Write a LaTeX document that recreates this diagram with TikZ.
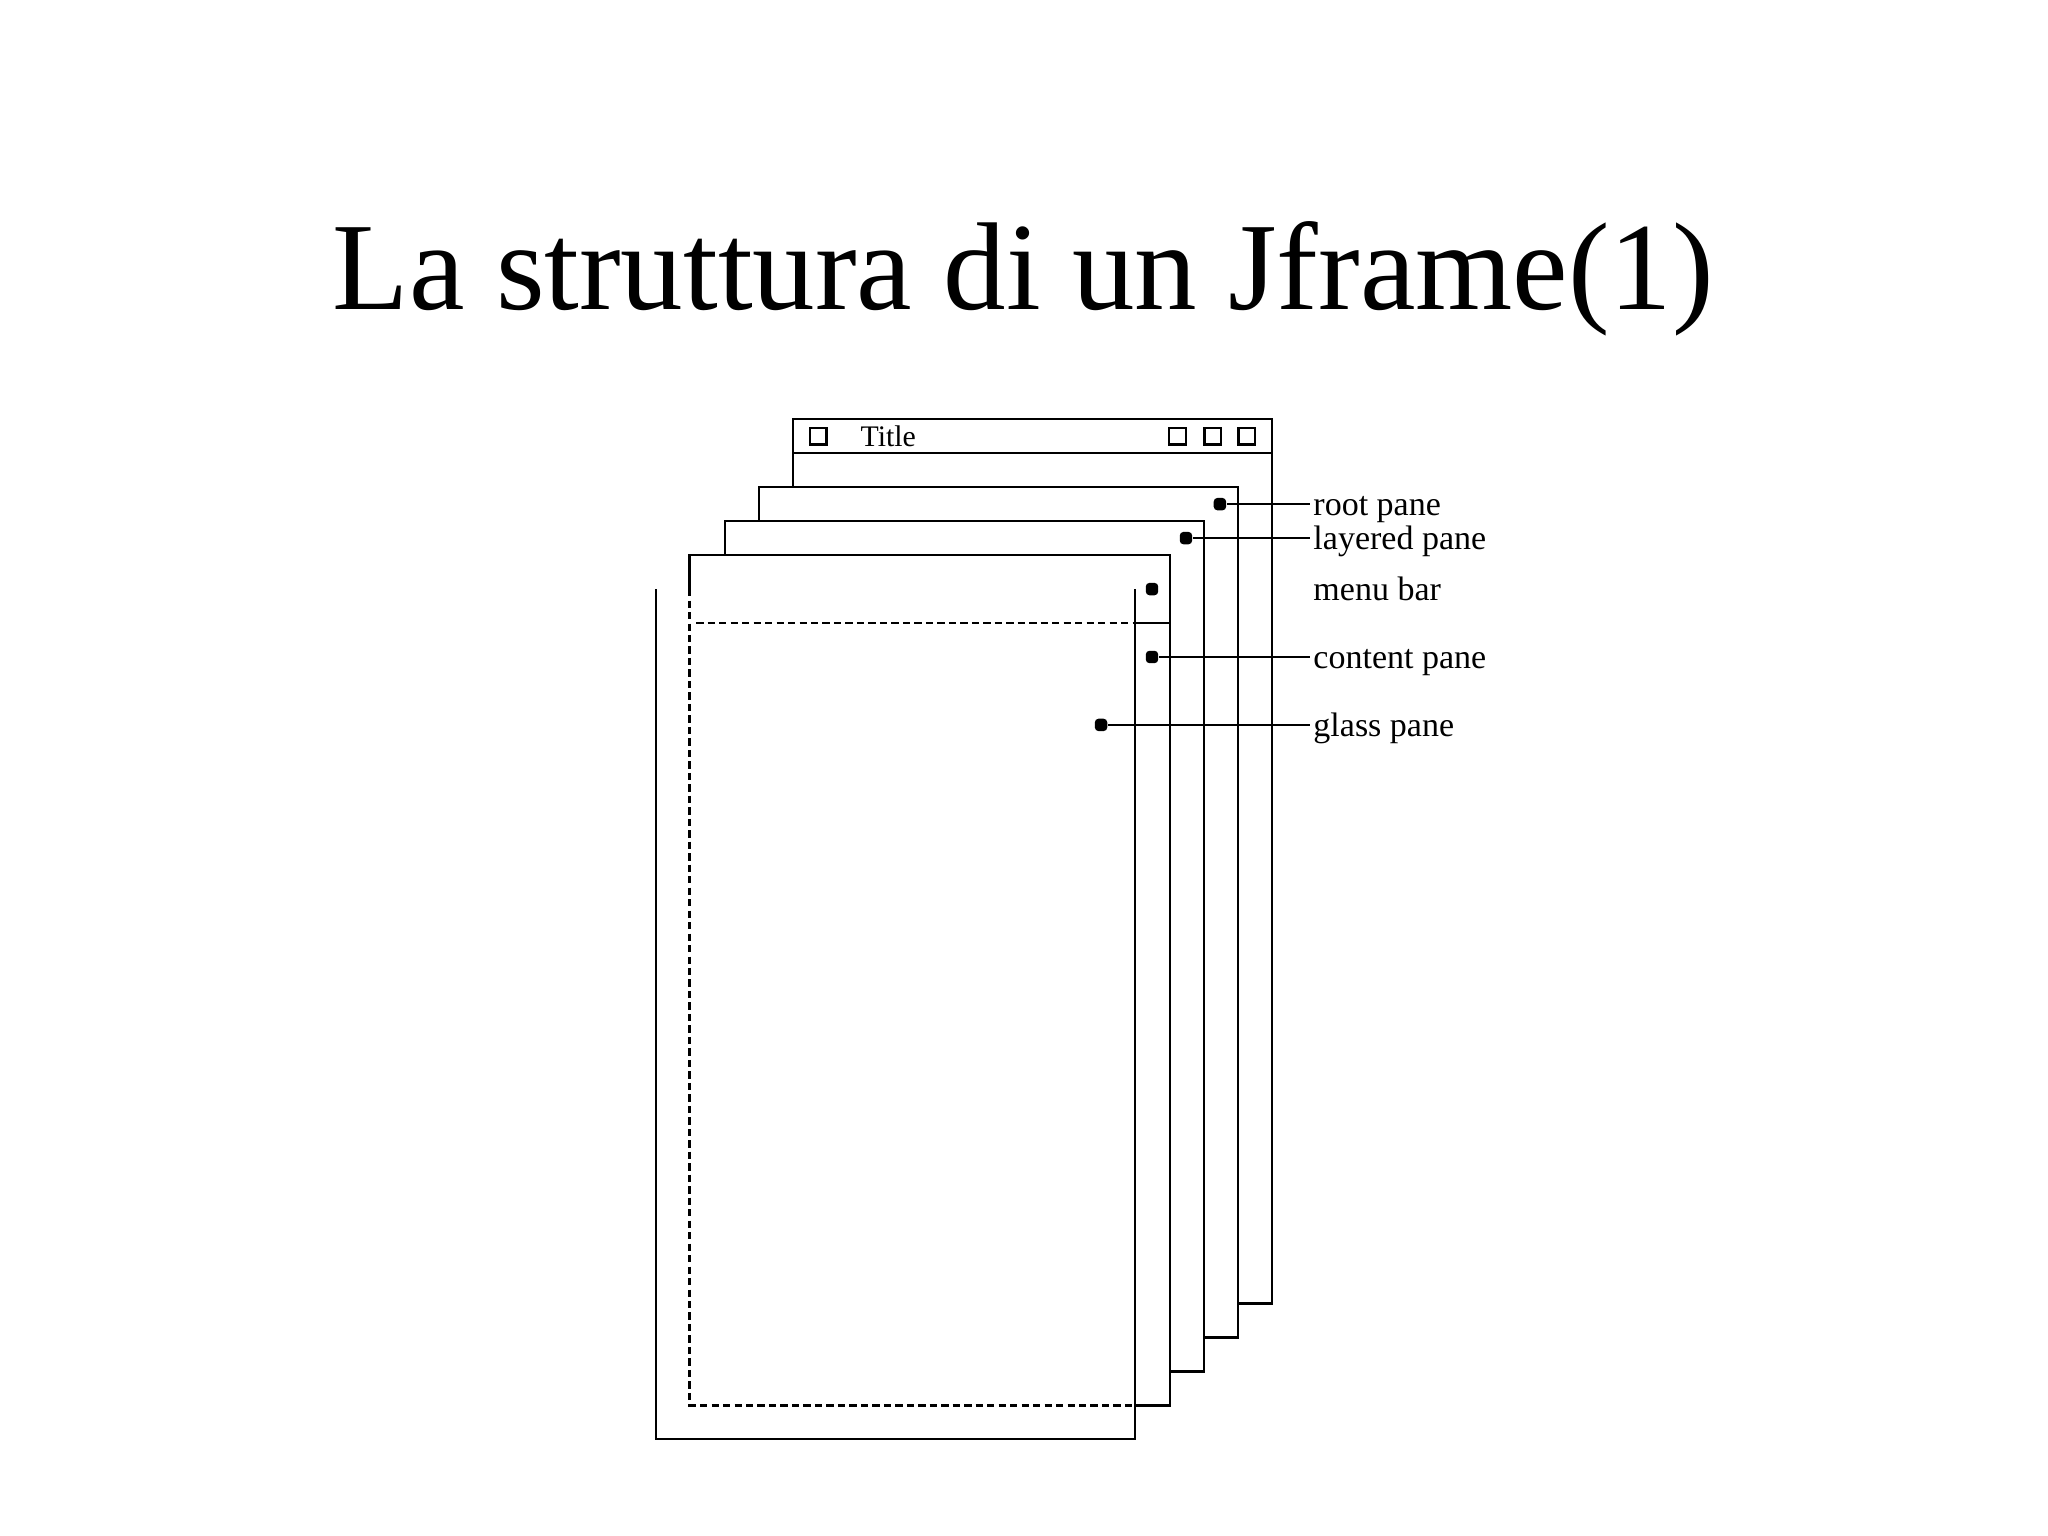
\documentclass[tikz,border=0pt]{standalone}
\usepackage{fontspec}
\setmainfont{Liberation Serif}
\usetikzlibrary{calc}

\begin{document}
\begin{tikzpicture}[x=0.01cm,y=-0.01cm,line width=0.5pt,
	pane/.style={fill=white},
	glassdash/.style={dash pattern=on 1.6pt off 0.9pt},
	dot/.style={rectangle,rounded corners=0.8pt,fill,inner sep=0pt,minimum size=2.7pt},
	btn/.style={draw,inner sep=0pt,minimum size=3.6pt},
	panelabel/.style={anchor=base west,inner sep=0.5pt,font=\fontsize{7.4}{9}\selectfont}]

	\useasboundingbox (0,0) rectangle (1568,1176);

	% title of the slide
	\node[anchor=base,inner sep=0pt,font=\fontsize{27.2}{32}\selectfont] (title) at (783.5,237) {La struttura di un Jframe(1)};

	% define the corners of the frames, from back to front
	\coordinate (A1) at (607,321);
	\coordinate (B1) at (974,998);
	\coordinate (A2) at (581,373);
	\coordinate (B2) at (948,1024);
	\coordinate (A3) at (555,399);
	\coordinate (B3) at (922,1050);
	\coordinate (A4) at (528,425);
	\coordinate (B4) at (896,1076);

	% draw the window with its title bar
	\draw[pane] (A1) rectangle (B1);
	\draw (607,347) -- (974,347);
	\node[btn] (menubtn) at (626.5,334) {};
	\node[anchor=west,inner sep=0pt,font=\fontsize{6.5}{8}\selectfont] (wintitle) at (658,334) {Title};
	\node[btn] (minbtn) at (901.5,334) {};
	\node[btn] (maxbtn) at (928.5,334) {};
	\node[btn] (closebtn) at (954.5,334) {};

	% draw root pane and layered pane
	\draw[pane] (A2) rectangle (B2);
	\draw[pane] (A3) rectangle (B3);

	% content pane with the menu bar, dashed behind the glass
	\fill[white] (A4) rectangle (B4);
	\draw (528,451) |- (896,425) |- (869,1076);
	\draw (869,477) -- (896,477);
	\draw[glassdash] (528,451) |- (869,1076);
	\draw[glassdash] (533,477) -- (869,477);

	% glass pane on top, no top edge
	\draw (502,451) |- (869,1102) -- (869,451);

	% dots and labels on the right
	\node[dot] (rootdot) at (934,386) {};
	\node[panelabel] (rootlbl) at (1003,395) {root pane};
	\draw (rootdot) -- (rootdot -| rootlbl.west);

	\node[dot] (layerdot) at (908,412) {};
	\node[panelabel] (layerlbl) at (1003,421) {layered pane};
	\draw (layerdot) -- (layerdot -| layerlbl.west);

	\node[dot] (menudot) at (882,451) {};
	\node[panelabel] (menulbl) at (1003,460) {menu bar};

	\node[dot] (contentdot) at (882,503) {};
	\node[panelabel] (contentlbl) at (1003,512) {content pane};
	\draw (contentdot) -- (contentdot -| contentlbl.west);

	\node[dot] (glassdot) at (843,555) {};
	\node[panelabel] (glasslbl) at (1003,564) {glass pane};
	\draw (glassdot) -- (glassdot -| glasslbl.west);

\end{tikzpicture}
\end{document}
